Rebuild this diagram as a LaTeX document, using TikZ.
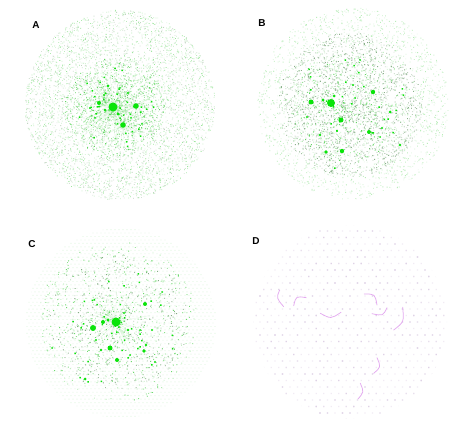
\documentclass[tikz,border=0pt]{standalone}
\usepackage{fontspec}
\setmainfont{Liberation Sans}
\definecolor{dotg}{RGB}{60,205,60}
\definecolor{dotd}{RGB}{100,150,100}
\definecolor{hub}{RGB}{10,228,10}
\definecolor{arcpink}{RGB}{228,170,240}
\definecolor{dotp}{RGB}{190,165,205}
\tikzset{
  panellabel/.style={font=\bfseries\fontsize{10}{10}\selectfont, inner sep=0pt},
  pinkarc/.style={draw=arcpink, line width=0.75pt, line cap=round},
  hubdot/.style={fill=hub},
}
% random dots in a disc, one path: #1 cx, #2 cy, #3 R, #4 exponent, #5 N, #6 colour, #7 size
\newcommand\mydisk[7]{%
  \fill[#6] \foreach \k [evaluate=\k as \dR using {#3*pow(rnd,#4)},
                         evaluate=\k as \dA using {360*rnd}] in {1,...,#5}{
    ({#1+\dR*cos(\dA)-#7/2},{#2+\dR*sin(\dA)-#7/2}) rectangle ++(#7,#7)
  };}
% faint edges from a hub: #1 cx, #2 cy, #3 len, #4 N
\newcommand\myspokes[4]{%
  \draw[dotg!18!white, line width=0.25pt] \foreach \k [evaluate=\k as \dR using {#3*(0.3+0.7*rnd)},
                         evaluate=\k as \dA using {360*rnd}] in {1,...,#4}{
    (#1,#2) -- ++({\dR*cos(\dA)},{\dR*sin(\dA)})
  };}
\begin{document}
\begin{tikzpicture}[x=1pt,y=-1pt]
\pgfmathsetseed{4217}
\fill[white] (0,0) rectangle (474,430);
\useasboundingbox (0,0) rectangle (474,430);

% ---------------- Panel A ----------------
\myspokes{113}{107}{45}{50}
\myspokes{136}{106}{25}{20}
\myspokes{123}{125}{25}{20}
\foreach \c in {dotg!18!white,dotg!26!white,dotg!34!white,dotg!42!white,dotg!50!white,dotd!28!white,dotd!40!white}
  {\mydisk{120}{105}{95}{0.5}{650}{\c}{0.8}}
\foreach \c in {dotg!40!white,dotg!60!white,dotg!80!white}
  {\mydisk{115}{108}{50}{0.8}{300}{\c}{0.9}}
\mydisk{115}{108}{42}{0.9}{40}{hub}{1.5}
\foreach \x/\y/\r in {113/107/4.5,136/106/2.8,123/125/2.8,99/103/2,108/86/1.5,118/114/1.6,
  105/110/1.3,142/124/1,128/93/1.2,90/108/1.2,104/95/1.1,131/118/1,120/88/1,95/118/1}
  \fill[hubdot] (\x,\y) circle (\r);
\node[panellabel] (la) at (36,25) {A};

% ---------------- Panel B ----------------
\foreach \c in {dotg!12!white,dotg!18!white,dotg!24!white,dotg!30!white,dotg!36!white}
  {\mydisk{353}{104}{96}{0.5}{500}{\c}{0.9}}
\foreach \c in {dotd!30!white,dotd!45!white,dotd!60!white,dotd!75!white}
  {\mydisk{350}{105}{72}{0.55}{400}{\c}{0.9}}
\foreach \c in {dotg!50!white,dotg!80!white}
  {\mydisk{345}{110}{55}{0.8}{180}{\c}{0.9}}
\mydisk{348}{110}{60}{0.7}{25}{hub}{1.5}
\foreach \x/\y/\r in {331/103/4,311/102/2.5,341/120/2.5,373/92/2.2,369/132/2,342/151/2.2,
  326/152/1.8,390/112/1.5,323/100/1.7,334/96/1.5,320/135/1.3,382/128/1.2,400/145/1.3,
  360/60/1,353/85/1.1,307/117/1.1,380/137/1,337/131/1,355/98/1}
  \fill[hubdot] (\x,\y) circle (\r);
\node[panellabel] (lb) at (262,23) {B};

% ---------------- Panel C ----------------
\begin{scope}
  \clip (121,323) circle (95);
  \foreach \j in {-28,...,28}{%
    \fill[dotg!20!white] \foreach \i in {-25,...,25}{
      ({121+4*\i+2*mod(\j+30,2)-0.45},{323+3.46*\j-0.45}) rectangle ++(0.9,0.9)
    };}
\end{scope}
\myspokes{116}{322}{35}{35}
\foreach \c in {dotg!30!white,dotg!45!white,dotg!60!white,dotg!75!white}
  {\mydisk{118}{322}{80}{0.7}{230}{\c}{0.9}}
\foreach \c in {dotd!40!white,dotd!60!white,dotd!80!white}
  {\mydisk{118}{322}{70}{0.6}{140}{\c}{0.9}}
\mydisk{118}{325}{65}{0.7}{40}{hub}{1.5}
\foreach \x/\y/\r in {116/322/4.5,93/328/3,110/348/2.5,117/360/2,145/304/2,103/322/2,
  108/320/1.7,144/351/1.8,85/379/1.5,146/345/1.3,128/330/1.3,152/330/1.2,101/350/1.3,
  155/362/1.2,52/348/1,130/355/1,96/340/1.1,124/313/1.1,140/330/1,162/292/1}
  \fill[hubdot] (\x,\y) circle (\r);
\node[panellabel] (lc) at (32,244) {C};

% ---------------- Panel D ----------------
\begin{scope}
  \clip (350,322) circle (97);
  \foreach \j in {-15,...,15}{%
    \fill[dotp!22!white] \foreach \i in {-14,...,14}{
      ({350+7.5*\i+3.75*mod(\j+30,2)-0.6},{322+6.5*\j-0.6}) rectangle ++(1.2,1.2)
    };}
  \foreach \c in {dotp!35!white,dotp!50!white}{%
    \fill[\c] \foreach \k [evaluate=\k as \di using {round(28*rnd-14)},
                           evaluate=\k as \dj using {round(30*rnd-15)}] in {1,...,200}{
      ({350+7.5*\di+3.75*mod(\dj+30,2)-0.6},{322+6.5*\dj-0.6}) rectangle ++(1.2,1.2)
    };}
\end{scope}
\draw[pinkarc] (279.7,290) .. controls (276.3,298) .. (283.7,306.7);
\draw[pinkarc] (293.7,305.7) .. controls (296,296) .. (306.3,297.7);
\draw[pinkarc] (320.3,313.3) .. controls (331,319) .. (341,312.3);
\draw[pinkarc] (364.3,294) .. controls (375,294) .. (377,305);
\draw[pinkarc] (372,313.7) .. controls (383,316) .. (387,307.7);
\draw[pinkarc] (402.7,307.3) .. controls (404,322) .. (393.7,330);
\draw[pinkarc] (377,357.7) .. controls (381,367) .. (373.7,373.3);
\draw[pinkarc] (360.3,383.3) .. controls (364,392) .. (358,399);
\node[panellabel] (ld) at (256,241) {D};
\end{tikzpicture}
\end{document}
